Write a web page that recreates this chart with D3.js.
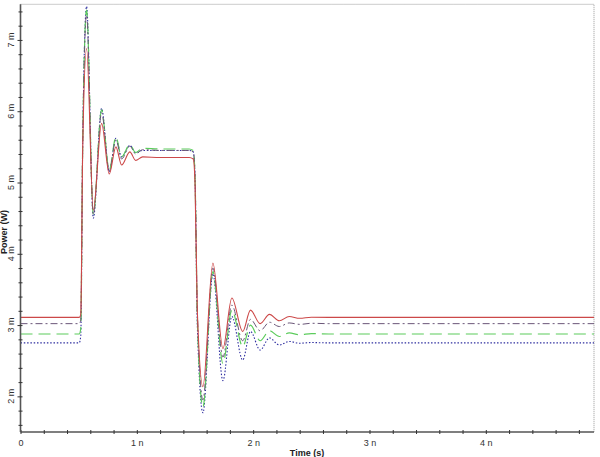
<!DOCTYPE html>
<html><head><meta charset="utf-8">
<script src="https://cdn.jsdelivr.net/npm/d3@7/dist/d3.min.js"></script>
<style>body{margin:0;background:#fff}svg{display:block}</style>
</head><body><svg id="c" width="600" height="457"></svg>
<script>
// time samples (ns)
const timeNs = [0, 0.505, 0.518, 0.535, 0.568, 0.626, 0.697, 0.763, 0.82, 0.869, 0.94, 0.99, 1.05, 1.20, 1.45, 1.485, 1.50, 1.52, 1.568, 1.654, 1.74, 1.817, 1.91, 1.977, 2.06, 2.14, 2.225, 2.31, 2.40, 2.50, 2.65, 4.93];
// power values (mW)
const redSolid   = [3.108, 3.108, 3.15, 5.5, 6.88, 4.61, 5.83, 5.12, 5.50, 5.245, 5.43, 5.31, 5.36, 5.35, 5.35, 5.33, 5.0, 3.2, 2.135, 3.87, 2.67, 3.38, 2.91, 3.21, 3.02, 3.15, 3.06, 3.12, 3.095, 3.11, 3.108, 3.108];
const purpleDashDot = [3.02, 3.02, 3.07, 5.6, 7.35, 4.55, 5.98, 5.16, 5.60, 5.33, 5.51, 5.40, 5.46, 5.45, 5.45, 5.43, 5.1, 3.2, 1.95, 3.80, 2.55, 3.28, 2.78, 3.08, 2.92, 3.04, 2.98, 3.03, 3.01, 3.025, 3.02, 3.02];
const greenDash  = [2.875, 2.875, 2.95, 5.6, 7.42, 4.55, 6.02, 5.17, 5.64, 5.36, 5.53, 5.42, 5.48, 5.47, 5.47, 5.45, 5.1, 3.1, 1.85, 3.75, 2.46, 3.21, 2.70, 3.00, 2.78, 2.92, 2.84, 2.89, 2.865, 2.88, 2.875, 2.875];
const blueDotted = [2.75, 2.75, 2.85, 5.6, 7.47, 4.50, 6.04, 5.15, 5.62, 5.36, 5.52, 5.42, 5.45, 5.45, 5.45, 5.43, 5.1, 3.0, 1.77, 3.72, 2.22, 3.12, 2.51, 2.91, 2.65, 2.82, 2.72, 2.77, 2.745, 2.755, 2.75, 2.75];
const xMajorTicks = [0, 1, 2, 3, 4];
const xTickLabels = ["0", "1 n", "2 n", "3 n", "4 n"];
const yMajorTicks = [2, 3, 4, 5, 6, 7];
const yTickLabels = ["2 m", "3 m", "4 m", "5 m", "6 m", "7 m"];
const xTitle = "Time (s)";
const yTitle = "Power (W)";

const series = [
  {name: "a", values: redSolid, color: "#cc4848", dash: null, w: 1.1},
  {name: "b", values: purpleDashDot, color: "#6a5678", dash: "7,3,2,3", w: 1},
  {name: "c", values: greenDash, color: "#5ccc5c", dash: "12,6", w: 1.2},
  {name: "d", values: blueDotted, color: "#2f2fa0", dash: "1.5,1.8", w: 1.1}
];

const svg = d3.select("#c");
const L = 20.5, R = 594, T = 4.3, B = 432;
const x = d3.scaleLinear().domain([0, 4.93]).range([L, R]);
const y = d3.scaleLinear().domain([1.5, 7.5]).range([B, T]);

// border top/right
svg.append("path").attr("d", `M${L},${T}H${R}V${B}`)
  .attr("fill", "none").attr("stroke", "#999").attr("stroke-width", 1).attr("stroke-dasharray", "1,1");

// lines
const line = d3.line().x((d, i) => x(timeNs[i])).y(d => y(d)).curve(d3.curveMonotoneX);
const order = [3, 2, 1, 0];
order.forEach(k => {
  const s = series[k];
  svg.append("path").datum(s.values).attr("d", line)
    .attr("fill", "none").attr("stroke", s.color).attr("stroke-width", s.w)
    .attr("stroke-dasharray", s.dash);
});

// x axis
const xMinor = d3.range(0, 25).map(i => i * 0.2).filter(v => v <= 4.93);
const xAxis = d3.axisBottom(x).tickValues(xMinor).tickFormat(d => {
  const i = xMajorTicks.findIndex(m => Math.abs(m - d) < 1e-9);
  return i >= 0 ? xTickLabels[i] : "";
}).tickSize(2).tickPadding(6);
const gx = svg.append("g").attr("transform", `translate(0,${B})`).call(xAxis);
gx.select(".domain").attr("stroke", "#555").attr("stroke-width", 1.6).attr("d", `M${L},0H${R}`);
gx.selectAll(".tick line").attr("y1", -2).attr("y2", 2).attr("stroke", "#333");
gx.selectAll(".tick text").attr("font-family", "Arial, Liberation Sans, sans-serif").attr("font-size", 9).attr("fill", "#333");

// y axis
const yMinor = d3.range(8, 38).map(i => i * 0.2);
const yAxis = d3.axisLeft(y).tickValues(yMinor).tickFormat("").tickSize(2);
const gy = svg.append("g").attr("transform", `translate(${L},0)`).call(yAxis);
gy.select(".domain").attr("stroke", "#555").attr("stroke-width", 1.6).attr("d", `M0,${T}V${B}`);
gy.selectAll(".tick line").attr("x1", -2).attr("x2", 2).attr("stroke", "#333");
gy.selectAll(".tick").filter(d => yMajorTicks.some(m => Math.abs(m - d) < 1e-9))
  .select("line").attr("x1", -3).attr("x2", 2);
yMajorTicks.forEach((v, i) => {
  svg.append("text").attr("transform", `translate(14,${y(v)}) rotate(-90)`)
    .attr("text-anchor", "middle").attr("font-family", "Arial, Liberation Sans, sans-serif")
    .attr("font-size", 9).attr("fill", "#333").text(yTickLabels[i]);
});

// titles
svg.append("text").attr("x", 307).attr("y", 456).attr("text-anchor", "middle")
  .attr("font-family", "Arial, Liberation Sans, sans-serif").attr("font-size", 9).attr("font-weight", "bold")
  .attr("fill", "#222").text(xTitle);
svg.append("text").attr("transform", `translate(7,232) rotate(-90)`).attr("text-anchor", "middle")
  .attr("font-family", "Arial, Liberation Sans, sans-serif").attr("font-size", 9).attr("font-weight", "bold")
  .attr("fill", "#222").text(yTitle);
</script></body></html>
